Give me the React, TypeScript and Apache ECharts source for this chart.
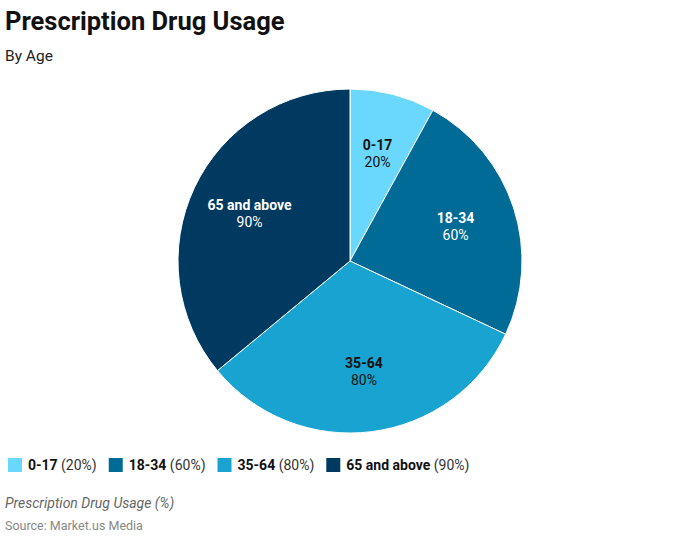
import React, { useEffect, useRef } from "react";
import * as echarts from "echarts";

const categories = ["0-17", "18-34", "35-64", "65 and above"];
const values = [20, 60, 80, 90];
const colors = ["#6ad8fd", "#016b97", "#18a3d0", "#013a60"];
const labelColors = ["#111111", "#ffffff", "#111111", "#ffffff"];

export default function App() {
  const ref = useRef<HTMLDivElement>(null);
  useEffect(() => {
    document.body.style.margin = "0";
    const chart = echarts.init(ref.current!, null, { renderer: "svg" });
    const font = "Roboto";
    const data = categories.map((c, i) => ({
      name: c,
      value: values[i],
      itemStyle: { color: colors[i] },
    }));
    const labelData = categories.map((c, i) => ({
      name: c,
      value: values[i],
      itemStyle: { color: "rgba(0,0,0,0)" },
      label: {
        color: labelColors[i],
        rich: {
          n: { fontFamily: font, fontWeight: "bold", fontSize: 14, color: labelColors[i], lineHeight: 17 },
          v: { fontFamily: font, fontSize: 14, color: labelColors[i], lineHeight: 17 },
        },
      },
    }));
    chart.setOption({
      animation: false,
      backgroundColor: "#ffffff",
      title: [
        {
          text: "Prescription Drug Usage",
          left: 0,
          top: 3,
          textStyle: { fontFamily: font, fontWeight: "bold", fontSize: 25.5, color: "#111111" },
        },
        {
          text: "By Age",
          left: 0,
          top: 43,
          textStyle: { fontFamily: font, fontWeight: "normal", fontSize: 15.5, color: "#222222" },
        },
        {
          text: "Prescription Drug Usage (%)",
          left: 0,
          top: 491,
          textStyle: { fontFamily: font, fontStyle: "italic", fontWeight: "normal", fontSize: 14, color: "#666666" },
        },
        {
          text: "Source: Market.us Media",
          left: 0,
          top: 514,
          textStyle: { fontFamily: font, fontWeight: "normal", fontSize: 12.5, color: "#888888" },
        },
      ],
      legend: {
        left: 1,
        top: 451,
        orient: "horizontal",
        icon: "rect",
        itemWidth: 16,
        itemHeight: 16,
        itemGap: 10,
        data: categories,
        formatter: (name: string) => {
          const i = categories.indexOf(name);
          return `{n|${name}} {v|(${values[i]}%)}`;
        },
        textStyle: {
          fontFamily: font,
          fontSize: 14,
          color: "#222222",
          rich: {
            n: { fontFamily: font, fontWeight: "bold", fontSize: 14, color: "#111111" },
            v: { fontFamily: font, fontSize: 14, color: "#333333" },
          },
        },
      },
      series: [
        {
          type: "pie",
          center: [350, 261],
          radius: [0, 172],
          startAngle: 90,
          clockwise: true,
          data,
          label: { show: false },
          labelLine: { show: false },
          itemStyle: { borderColor: "#ffffff", borderWidth: 1 },
          emphasis: { disabled: true },
        },
        {
          type: "pie",
          center: [350, 261],
          radius: [0, 216],
          startAngle: 90,
          clockwise: true,
          silent: true,
          legendHoverLink: false,
          data: labelData,
          label: {
            show: true,
            position: "inside",
            formatter: (p: any) => `{n|${p.name}}\n{v|${p.value}%}`,
          },
          labelLine: { show: false },
          emphasis: { disabled: true },
        },
      ],
    });
    return () => chart.dispose();
  }, []);
  return <div ref={ref} style={{ width: 700, height: 536 }} />;
}
